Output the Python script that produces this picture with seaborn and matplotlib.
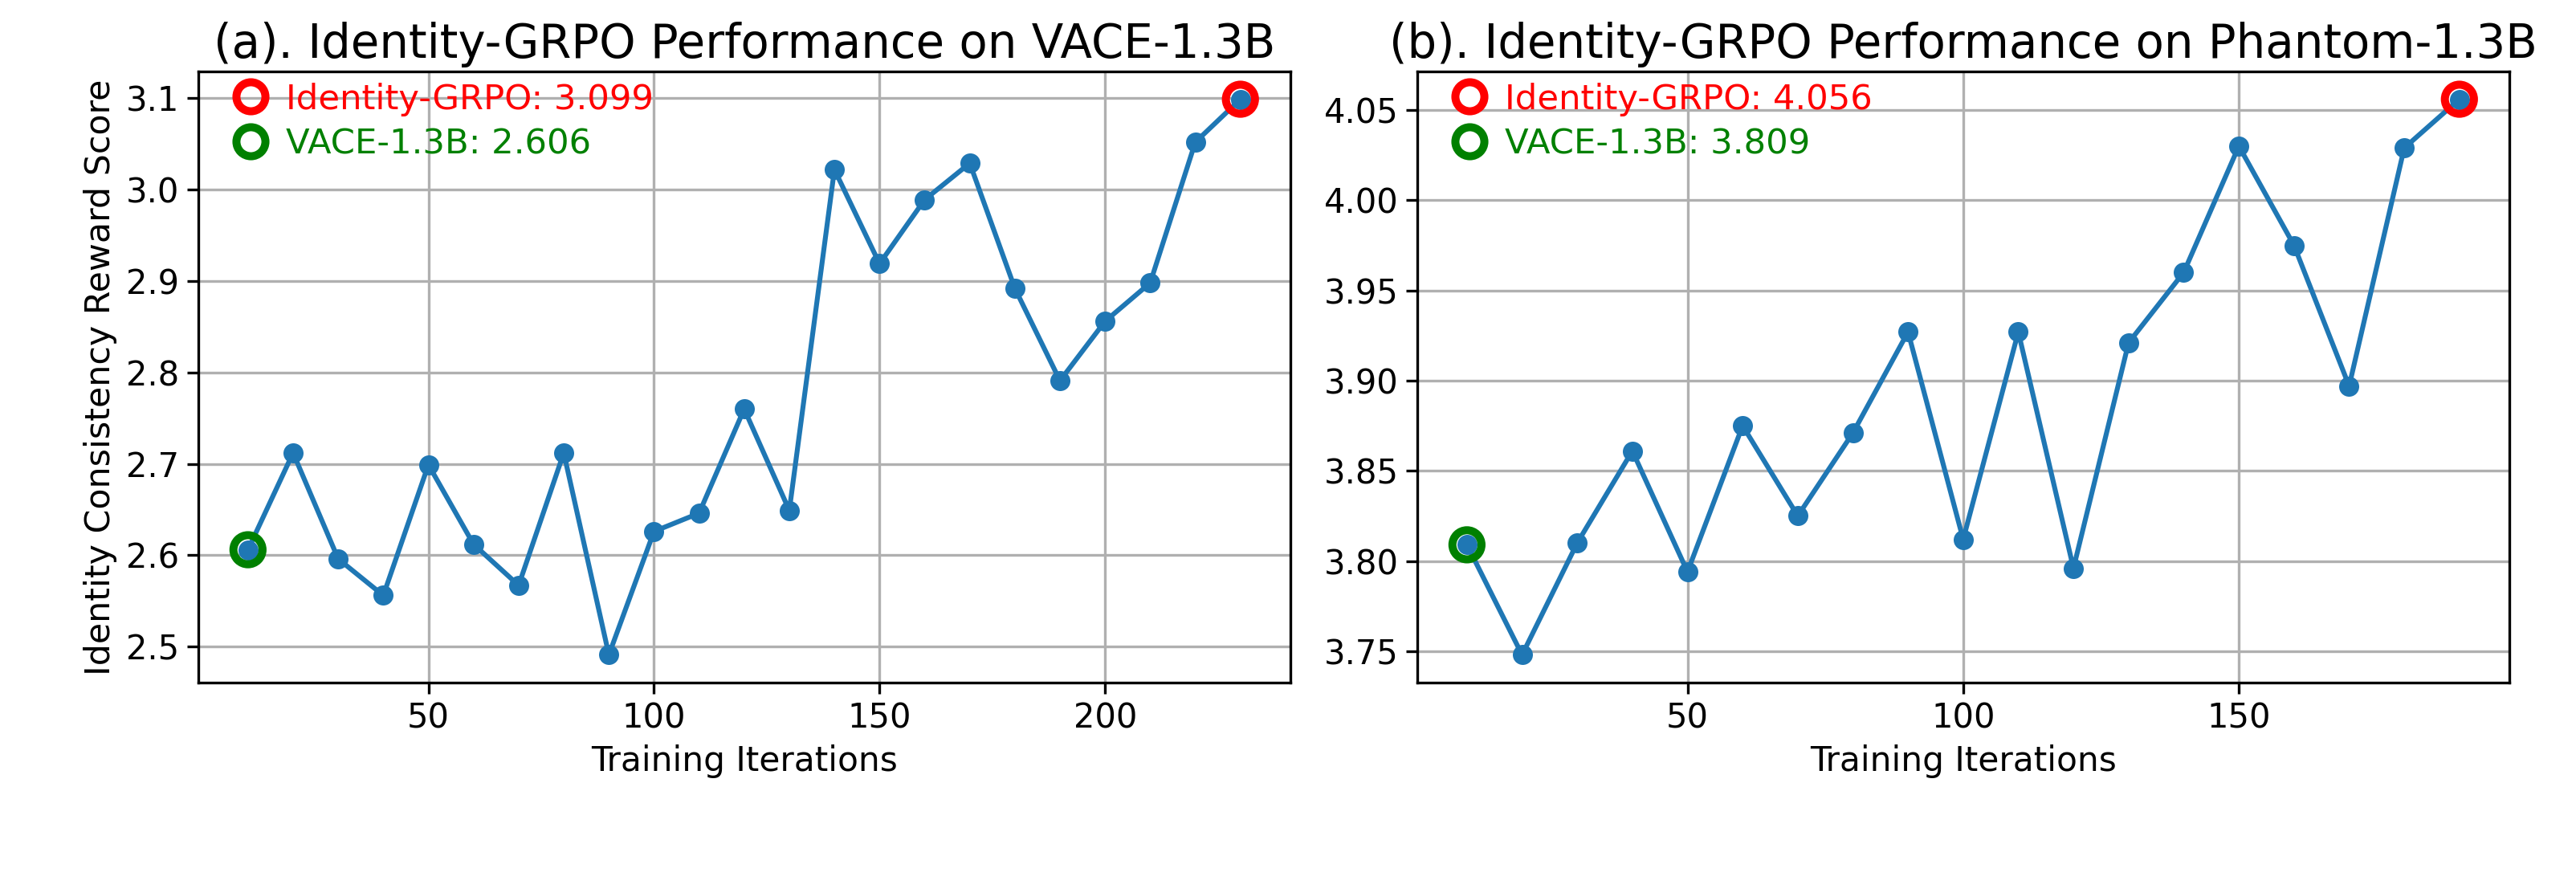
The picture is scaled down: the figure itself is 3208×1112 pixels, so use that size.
import matplotlib
matplotlib.use("Agg")
import matplotlib.pyplot as plt
import seaborn as sns
import pandas as pd
from matplotlib.lines import Line2D

# Dados
iters_vace = [10, 20, 30, 40, 50, 60, 70, 80, 90, 100, 110, 120,
              130, 140, 150, 160, 170, 180, 190, 200, 210, 220, 230]
score_vace = [2.606, 2.712, 2.596, 2.556, 2.699, 2.612, 2.567, 2.712, 2.491,
              2.626, 2.646, 2.760, 2.649, 3.022, 2.919, 2.989, 3.029, 2.892,
              2.791, 2.856, 2.898, 3.052, 3.099]

iters_phantom = [10, 20, 30, 40, 50, 60, 70, 80, 90, 100, 110, 120,
                 130, 140, 150, 160, 170, 180, 190]
score_phantom = [3.809, 3.748, 3.810, 3.861, 3.794, 3.875, 3.825, 3.871, 3.927,
                 3.812, 3.927, 3.796, 3.921, 3.960, 4.030, 3.975, 3.897,
                 4.029, 4.056]

titles = ['(a). Identity-GRPO Performance on VACE-1.3B',
          '(b). Identity-GRPO Performance on Phantom-1.3B']
base_names = ['VACE-1.3B', 'VACE-1.3B']
xtick_sets = [[50, 100, 150, 200], [50, 100, 150]]

plt.rcParams['font.family'] = ['DejaVu Sans']
plt.rcParams['font.size'] = 15

fig, axes = plt.subplots(1, 2, figsize=(16.04, 5.56), dpi=200)
fig.subplots_adjust(left=0.077, right=0.974, bottom=0.2356, top=0.92, wspace=0.1166)

series = [(iters_vace, score_vace), (iters_phantom, score_phantom)]
for i, (ax, (xs, ys)) in enumerate(zip(axes, series)):
    df = pd.DataFrame({'iter': xs, 'score': ys})
    sns.lineplot(data=df, x='iter', y='score', ax=ax, color='#1f77b4',
                 marker='o', markersize=9, markeredgewidth=0, linewidth=2.2)
    # destacar o primeiro (baseline) e o último ponto
    ax.scatter(xs[-1], ys[-1], s=170, facecolors='none', edgecolors='red',
               linewidths=3.6, zorder=5)
    ax.scatter(xs[0], ys[0], s=170, facecolors='none', edgecolors='green',
               linewidths=3.6, zorder=5)
    handles = [
        Line2D([], [], linestyle='none', marker='o', markersize=13,
               markerfacecolor='none', markeredgecolor='red', markeredgewidth=3.6),
        Line2D([], [], linestyle='none', marker='o', markersize=13,
               markerfacecolor='none', markeredgecolor='green', markeredgewidth=3.6),
    ]
    labels = [f'Identity-GRPO: {ys[-1]:.3f}', f'{base_names[i]}: {ys[0]:.3f}']
    ax.legend(handles, labels, loc='upper left', bbox_to_anchor=(0.032, 0.982),
              frameon=False, borderaxespad=0, borderpad=0, handlelength=1,
              handletextpad=0.5, labelspacing=0.32, fontsize=15.6,
              labelcolor=['red', 'green'])
    ax.set_xticks(xtick_sets[i])
    ax.grid(True, color='#b0b0b0', linewidth=1.2)
    ax.set_title(titles[i], fontsize=20.8)
    ax.set_xlabel('Training Iterations', fontsize=15.2)
    ax.set_ylabel('Identity Consistency Reward Score' if i == 0 else '', fontsize=15.4)
    ax.tick_params(labelsize=15, width=1.2, length=5)
    for s in ax.spines.values():
        s.set_linewidth(1.2)

plt.savefig('out.png', dpi=200)
